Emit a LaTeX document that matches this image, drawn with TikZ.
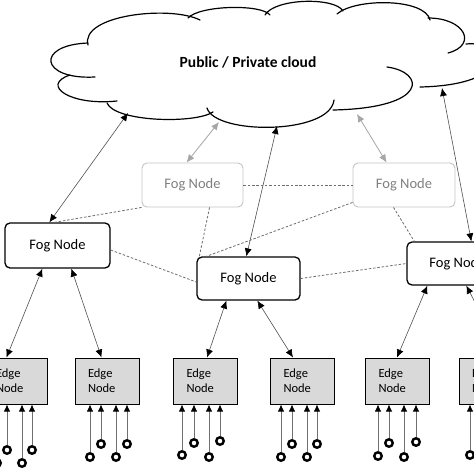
\documentclass[tikz,border=0pt]{standalone}
\usepackage{fontspec}
\setmainfont{Carlito}
\usetikzlibrary{arrows.meta,calc}
\definecolor{edgefill}{HTML}{D9D9D9}
\definecolor{lightline}{HTML}{C4C4C4}
\definecolor{graytext}{HTML}{808080}
\definecolor{linkgray}{HTML}{505050}
\definecolor{glinkgray}{HTML}{A6A6A6}
\definecolor{dashgray}{HTML}{6E6E6E}
\definecolor{sensorgray}{HTML}{707070}
\begin{document}
\begin{tikzpicture}[x=1pt,y=-1pt,
  fogbox/.style={draw=black, fill=white, line width=1.3pt, rounded corners=5pt, minimum height=44pt, inner sep=0pt, font=\fontsize{14.5}{17}\selectfont},
  gfogbox/.style={fogbox, draw=lightline, line width=0.9pt, text=graytext},
  edgebox/.style={draw=black, fill=edgefill, line width=1pt, minimum width=64pt, minimum height=46pt, inner sep=0pt, text width=38pt, align=left, font=\fontsize{12.5}{15}\selectfont},
  sensor/.style={circle, draw=black, line width=2.4pt, minimum size=7.5pt, inner sep=0pt},
  sensorline/.style={draw=sensorgray, line width=0.8pt, -{Latex[length=7pt,width=6.5pt,color=black]}},
  link/.style={draw=linkgray, line width=0.6pt, {Latex[length=8pt,width=7pt,color=black]}-{Latex[length=8pt,width=7pt,color=black]}},
  glink/.style={draw=glinkgray, line width=0.8pt, {Latex[length=8pt,width=7pt]}-{Latex[length=8pt,width=7pt]}},
  dashlink/.style={draw=dashgray, line width=0.8pt, dash pattern=on 2.5pt off 1.8pt},
  cloudline/.style={draw=black, line width=1.2pt, line cap=round}
]
\useasboundingbox (0,0) rectangle (474,474);
\fill[white] (0,0) rectangle (474,474);
\clip (0,0) rectangle (474,474);

% cloud outline
\draw[cloudline] (95,77) .. controls (40,80) and (35,45) .. (88,43);
\draw[cloudline] (88,45) .. controls (80,15) and (170,5) .. (200,20);
\draw[cloudline] (188,18) .. controls (200,5) and (262,4) .. (270,15);
\draw[cloudline] (265,15) .. controls (275,-2) and (335,-3) .. (343,11);
\draw[cloudline] (337,14) .. controls (355,-2) and (425,-2) .. (430,20);
\draw[cloudline] (428,18) .. controls (465,18) and (478,45) .. (448,53);
\draw[cloudline] (466,44) .. controls (505,40) and (515,85) .. (420,87);
\draw[cloudline] (387,67) .. controls (425,72) and (430,108) .. (333,110);
\draw[cloudline] (334,100) .. controls (330,135) and (215,135) .. (207,108);
\draw[cloudline] (213,112) .. controls (195,124) and (115,122) .. (107,103);
\draw[cloudline] (117,101) .. controls (70,106) and (40,85) .. (70,75);
\node[font=\fontsize{15.5}{18}\selectfont\bfseries] (cloud) at (248,62) {Public / Private cloud};
\coordinate (c1) at (128,113);
\coordinate (c2) at (219,122);
\coordinate (c3) at (277,126);
\coordinate (c4) at (357,114);
\coordinate (c5) at (442,88);

% fog nodes
\node[gfogbox, minimum width=101pt] (gfog1) at (192.5,185) {Fog Node};
\node[gfogbox, minimum width=102pt] (gfog2) at (404,185) {Fog Node};
\node[fogbox, minimum width=105pt, minimum height=45pt] (fogL) at (57.5,245.5) {Fog Node};
\node[fogbox, minimum width=103pt, minimum height=43pt] (fogM) at (248.5,278.5) {Fog Node};
\node[fogbox, minimum width=101pt, minimum height=43pt] (fogR) at (457.5,263.5) {Fog Node};

% edge nodes
\node[edgebox] (e1) at (15,381) {Edge\\Node};
\node[edgebox] (e2) at (107,381) {Edge\\Node};
\node[edgebox] (e3) at (205.5,381) {Edge\\Node};
\node[edgebox] (e4) at (302.5,381) {Edge\\Node};
\node[edgebox] (e5) at (397.5,381) {Edge\\Node};
\node[edgebox] (e6) at (491,381) {Edge\\Node};

% cloud links
\draw[link] ([xshift=45pt]fogL.north west) -- (c1);
\draw[glink] ([xshift=45pt]gfog1.north west) -- (c2);
\draw[link] ([xshift=50pt]fogM.north west) -- (c3);
\draw[glink] ([xshift=34pt]gfog2.north west) -- (c4);
\draw[link] ([xshift=65pt]fogR.north west) -- (c5);

% fog-fog dashed links
\draw[dashlink] ([xshift=50pt]fogL.north west) -- (gfog1.south west);
\draw[dashlink] ([yshift=-4.5pt]fogL.east) -- ([yshift=-3.5pt]fogM.west);
\draw[dashlink] ([xshift=68pt]gfog1.south west) -- ([xshift=3pt]fogM.north west);
\draw[dashlink] (gfog1.east) -- (gfog2.west);
\draw[dashlink] ([yshift=5pt]gfog2.south west) -- ([xshift=10pt]fogM.north west);
\draw[dashlink] (fogM.east) -- (fogR.west);
\draw[dashlink] ([xshift=41pt]gfog2.south west) -- ([xshift=8pt]fogR.north west);

% fog-edge links
\draw[link] ([xshift=38pt]fogL.south west) -- ([xshift=24pt]e1.north west);
\draw[link] ([xshift=67pt]fogL.south west) -- ([xshift=27pt]e2.north west);
\draw[link] ([xshift=30pt]fogM.south west) -- ([xshift=34pt]e3.north west);
\draw[link] ([xshift=61pt]fogM.south west) -- ([xshift=23pt]e4.north west);
\draw[link] ([xshift=21pt]fogR.south west) -- ([xshift=32pt]e5.north west);
\draw[link] ([xshift=60pt]fogR.south west) -- ([xshift=45pt]e6.north west);

% sensors
\foreach \e/\i/\sx/\sy in {
 e1/1/-3/463, e1/2/7/450, e1/3/22/463, e1/4/32/450,
 e2/1/90/457, e2/2/101/444, e2/3/116/457, e2/4/127/444,
 e3/1/182/455, e3/2/194/443, e3/3/209/457, e3/4/220/441,
 e4/1/281/457, e4/2/292/444, e4/3/307/457, e4/4/317/444,
 e5/1/378/456, e5/2/389/443, e5/3/404/457, e5/4/416/442,
 e6/1/470/455}
{
  \node[sensor] (s\e\i) at (\sx,\sy) {};
  \draw[sensorline] (s\e\i) -- (s\e\i |- \e.south);
}
\end{tikzpicture}
\end{document}
